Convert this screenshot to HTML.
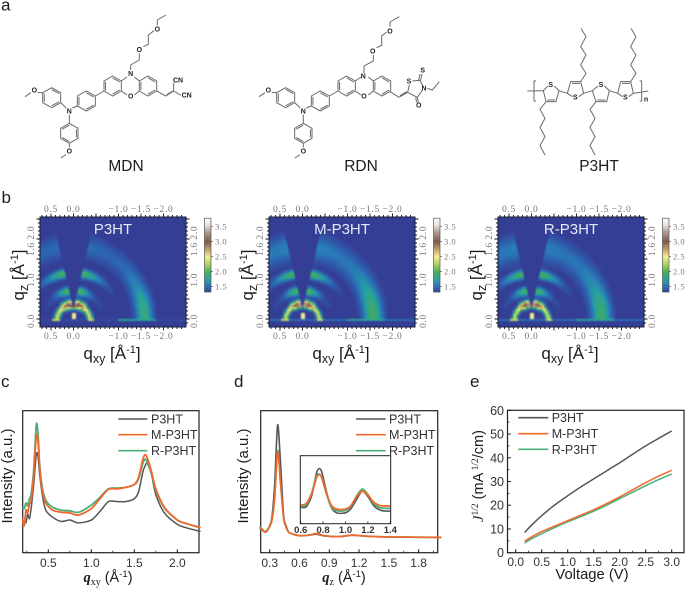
<!DOCTYPE html>
<html lang="en">
<head>
<meta charset="utf-8">
<title>P3HT blends: structures, GIWAXS, line cuts, SCLC</title>
<style>
html,body{margin:0;padding:0;background:#fff;width:685px;height:589px;overflow:hidden}
svg{display:block}
text{font-family:"Liberation Sans",sans-serif;fill:#1c1c1c}
.serif{font-family:"Liberation Serif",serif}
</style>
</head>
<body>
<svg id="fig" xmlns="http://www.w3.org/2000/svg" width="685" height="589" viewBox="0 0 685 589">
<defs>
  <filter id="mapBlur" x="-5%" y="-5%" width="110%" height="110%" color-interpolation-filters="sRGB"><feGaussianBlur stdDeviation="0.9"/></filter>
</defs>
<rect width="685" height="589" fill="#fff"/>

<text x="1" y="10.5" font-size="17">a</text>
<text x="1.5" y="203" font-size="17">b</text>
<text x="1" y="387" font-size="17">c</text>
<text x="234" y="387" font-size="17">d</text>
<text x="470" y="387" font-size="17">e</text>

<g id="mols" transform="scale(0.33333)">
  <g id="mdn"></g>
  <g id="rdn"></g>
  <g id="p3ht" transform="translate(-320 0)"></g>
  <g font-size="21" text-anchor="middle" font-weight="bold" fill="#333">
    <text x="103" y="278">O</text>
    <text x="208" y="340">N</text>
    <text x="208" y="460">O</text>
    <text x="392" y="228">N</text>
    <text x="392" y="295">O</text>
    <text x="418" y="156">O</text>
    <text x="472" y="94">O</text>
    <text x="534" y="247">CN</text>
    <text x="560" y="293">CN</text>
    <text x="805" y="278">O</text>
    <text x="910" y="340">N</text>
    <text x="910" y="460">O</text>
    <text x="1090" y="236">N</text>
    <text x="1092" y="296">O</text>
    <text x="1118" y="160">O</text>
    <text x="1170" y="100">O</text>
    <text x="1227" y="250">S</text>
    <text x="1268" y="217">S</text>
    <text x="1272" y="271">N</text>
    <text x="1256" y="323">O</text>
    <text x="1652" y="261">S</text>
    <text x="1726" y="298">S</text>
    <text x="1803" y="261">S</text>
    <text x="1876" y="298">S</text>
    <text x="1938" y="305">n</text>
  </g>
</g>
<text x="126" y="171" font-size="15.5" text-anchor="middle" fill="#333">MDN</text>
<text x="361" y="171" font-size="15.5" text-anchor="middle" fill="#333">RDN</text>
<text x="599" y="171" font-size="15.5" text-anchor="middle" fill="#333">P3HT</text>

<g id="heatmaps"></g>

<text transform="translate(24 275) rotate(-90)" font-size="17" text-anchor="middle">q<tspan dy="4" font-size="12.5">z</tspan><tspan dy="-4"> [Å</tspan><tspan dy="-6" font-size="11">-1</tspan><tspan dy="6">]</tspan></text>
<text transform="translate(253 275) rotate(-90)" font-size="17" text-anchor="middle">q<tspan dy="4" font-size="12.5">z</tspan><tspan dy="-4"> [Å</tspan><tspan dy="-6" font-size="11">-1</tspan><tspan dy="6">]</tspan></text>
<text transform="translate(482 275) rotate(-90)" font-size="17" text-anchor="middle">q<tspan dy="4" font-size="12.5">z</tspan><tspan dy="-4"> [Å</tspan><tspan dy="-6" font-size="11">-1</tspan><tspan dy="6">]</tspan></text>
<text x="112" y="359" font-size="17" text-anchor="middle">q<tspan dy="4" font-size="12.5">xy</tspan><tspan dy="-4"> [Å</tspan><tspan dy="-6" font-size="11">-1</tspan><tspan dy="6">]</tspan></text>
<text x="341" y="359" font-size="17" text-anchor="middle">q<tspan dy="4" font-size="12.5">xy</tspan><tspan dy="-4"> [Å</tspan><tspan dy="-6" font-size="11">-1</tspan><tspan dy="6">]</tspan></text>
<text x="570" y="359" font-size="17" text-anchor="middle">q<tspan dy="4" font-size="12.5">xy</tspan><tspan dy="-4"> [Å</tspan><tspan dy="-6" font-size="11">-1</tspan><tspan dy="6">]</tspan></text>

<g id="charts"></g>

<text transform="translate(12 476) rotate(-90)" font-size="15" text-anchor="middle" fill="#333">Intensity (a.u.)</text>
<text transform="translate(248 476) rotate(-90)" font-size="15" text-anchor="middle" fill="#333">Intensity (a.u.)</text>
<text transform="translate(483 476) rotate(-90)" font-size="14.5" text-anchor="middle" fill="#333"><tspan class="serif" font-style="italic">J</tspan><tspan dy="-5" font-size="9.5" class="serif">1/2</tspan><tspan dy="5"> (mA</tspan><tspan dy="-5" font-size="9.5" class="serif"> 1/2</tspan><tspan dy="5">/cm)</tspan></text>
<text x="108" y="582" font-size="14.5" text-anchor="middle" fill="#333"><tspan class="serif" font-style="italic" font-weight="bold">q</tspan><tspan dy="3" font-size="10" class="serif">xy</tspan><tspan dy="-3"> (Å</tspan><tspan dy="-5" font-size="9.5">-1</tspan><tspan dy="5">)</tspan></text>
<text x="344" y="582" font-size="14.5" text-anchor="middle" fill="#333"><tspan class="serif" font-style="italic" font-weight="bold">q</tspan><tspan dy="3" font-size="10" class="serif">z</tspan><tspan dy="-3"> (Å</tspan><tspan dy="-5" font-size="9.5">-1</tspan><tspan dy="5">)</tspan></text>
<text x="592" y="579" font-size="14.8" text-anchor="middle" fill="#333">Voltage (V)</text>
</svg>

<script>
// ---------- GIWAXS data (intensity model) ----------
const mapTitles = ['P3HT', 'M-P3HT', 'R-P3HT'];
const ringAngles = [0, 15, 30, 45, 60, 75, 90];
const outerRadius = [1.58, 1.57, 1.56];
const outerWidth = [0.12, 0.14, 0.14];
const outerAmp = [
  [1.9, 1.82, 1.6, 1.5, 1.47, 1.5, 1.53],
  [1.98, 1.88, 1.68, 1.56, 1.54, 1.58, 1.62],
  [1.95, 1.85, 1.66, 1.55, 1.53, 1.57, 1.6]
];
const domeRadius = [0.37, 0.38, 0.38];
const domeWidth = [0.045, 0.04, 0.04];
const domeAmp = [2.4, 2.4, 2.4, 2.55, 2.95, 3.2, 3.35];
const arc2Radius = [0.67, 0.67, 0.67];
const arc2Amp = [1.32, 1.33, 1.36, 1.4, 1.58, 1.98, 2.0];
const arc3Radius = [1.07, 1.05, 1.05];
const arc3Amp = [1.32, 1.33, 1.34, 1.4, 1.62, 1.98, 2.0];
const arcWidth = 0.065;
const horizonAmp = [1.36, 1.5, 1.5];
const wedgeApex = 0.27;
const wedgeSlope = 0.235;
const mapXTicks = [0.5, 0, -1, -1.5, -2];
const mapXLabels = ['0.5', '0.0', '−1.0', '−1.5', '−2.0'];
const mapYTickValues = [0, 1, 1.6, 2];
const mapYLabels = ['0.0', '1.0', '1.6', '2.0'];
const cbarTicks = [1.5, 2, 2.5, 3, 3.5];
const cbarLabels = ['1.5', '2.0', '2.5', '3.0', '3.5'];
const cmapValues = [1.3, 1.42, 1.55, 1.72, 2.0, 2.25, 2.5, 2.75, 3.0, 3.3, 3.55, 3.8];
const cmapColors = ['#343e94', '#2f55a8', '#2a78b8', '#25a0a0', '#48ae52', '#b0d260', '#f4ec8e', '#c2a06c', '#7c5646', '#a8948c', '#e6e0dc', '#ffffff'];

// ---------- Line-cut data ----------
const seriesNames = ['P3HT', 'M-P3HT', 'R-P3HT'];
const cQ = [.2,.22,.24,.26,.28,.3,.33,.36,.38,.4,.43,.47,.55,.65,.75,.85,1,1.1,1.2,1.3,1.4,1.5,1.55,1.6,1.625,1.65,1.7,1.75,1.85,2,2.1,2.27];
const cP3HT = [18,23,21,27,24,31,48,69,68,55,41,30,25,22,23,21,23,29,36,36,36,38,43,57,61,63,55,41,28,20,17.6,15];
const cM = [24,19,30,28,34,37,55,82,79,60,44,35,30,28.5,28,26.5,31,38,44.6,45,46,48,53,66,69,67,57,45,32,23,20.6,17.6];
const cR = [32,31,35,33,38,41,58,90,84,62,46,37,32,30,29.5,28.4,33.5,39,45,45.5,46,48,52,63,66,64,56,44,31.5,23,20.6,17.6];
const cXTicks = [.5, 1, 1.5, 2];
const cXLabels = ['0.5', '1.0', '1.5', '2.0'];

const dQ = [.2,.22,.25,.28,.32,.35,.38,.41,.44,.47,.5,.6,.7,.77,.85,1,1.13,1.3,1.6,2.03];
const dP3HT = [17.6,16.5,14.5,16,24,48,90,62,26.5,18,14,12,12.4,13,11.8,11.3,12.2,11.5,11,10.8];
const dM = [17.6,16.5,14.5,16,22,38,71,48,24,17,14,12,12.4,13.5,12,11.3,12.4,11.5,11,10.8];
const dR = [18.5,17,15,16.5,23,39,72,49,24.5,17,14,12,12.4,13.5,12,11.3,12.4,11.5,11,10.8];
const dXTicks = [.3, .6, .9, 1.2, 1.5, 1.8];
const dXLabels = ['0.3', '0.6', '0.9', '1.2', '1.5', '1.8'];

const inQ = [.6,.65,.7,.74,.765,.79,.83,.87,.92,1,1.05,1.1,1.15,1.2,1.25,1.3,1.35,1.4];
const inP3HT = [24,25,42,74,81,75,47,25,16,16,22.5,36,48,40,27,20.6,18.6,18.6];
const inM = [27,30,45,67,72,67,45,28,21.5,21.5,27,40,48,42,32,27,26,26];
const inR = [25,28,46,70,73,67,44,26,19,19.5,26,41,51,43,30,24,22.5,22.5];
const inXTicks = [.6, .8, 1, 1.2, 1.4];
const inXLabels = ['0.6', '0.8', '1.0', '1.2', '1.4'];

const eV = [.17,.3,.5,.75,1,1.25,1.5,1.75,2,2.25,2.5,2.75,3];
const eP3HT = [8.5,11.5,15.6,20.1,24,27.7,31.1,34.5,37.9,41.5,45,48.2,51.3];
const eM = [4.8,6.6,8.9,11.2,13.5,15.8,18.1,20.7,23.5,26.5,29.5,32.3,34.7];
const eR = [4.1,5.8,8,10.6,13,15.2,17.5,20,22.8,25.5,28.2,30.8,33.2];
const eXTicks = [0, .5, 1, 1.5, 2, 2.5, 3];
const eXLabels = ['0.0', '0.5', '1.0', '1.5', '2.0', '2.5', '3.0'];
const eYTicks = [0, 10, 20, 30, 40, 50, 60];
const eYLabels = ['0', '10', '20', '30', '40', '50', '60'];

// ---------- helpers ----------
const NS = 'http://www.w3.org/2000/svg';
function mk(tag, attrs, parent, content) {
  const el = document.createElementNS(NS, tag);
  for (const k in attrs) el.setAttribute(k, attrs[k]);
  if (content !== undefined) el.textContent = content;
  parent.appendChild(el);
  return el;
}
function interp(xs, ys, x) {
  if (x <= xs[0]) return ys[0];
  for (let i = 1; i < xs.length; i++) {
    if (x <= xs[i]) {
      const t = (x - xs[i - 1]) / (xs[i] - xs[i - 1]);
      return ys[i - 1] + t * (ys[i] - ys[i - 1]);
    }
  }
  return ys[ys.length - 1];
}
function hexToRgb(h) {
  return [parseInt(h.slice(1, 3), 16), parseInt(h.slice(3, 5), 16), parseInt(h.slice(5, 7), 16)];
}
const cmapRgb = cmapColors.map(hexToRgb);
function colorOf(v) {
  const c = [0, 1, 2].map(i => Math.round(interp(cmapValues, cmapRgb.map(r => r[i]), v)));
  return 'rgb(' + c.join(',') + ')';
}
function smoothPath(pts) {
  let d = 'M' + pts[0][0].toFixed(2) + ' ' + pts[0][1].toFixed(2);
  for (let i = 0; i < pts.length - 1; i++) {
    const p0 = pts[Math.max(i - 1, 0)], p1 = pts[i], p2 = pts[i + 1], p3 = pts[Math.min(i + 2, pts.length - 1)];
    const k = 0.14;
    d += 'C' + (p1[0] + (p2[0] - p0[0]) * k).toFixed(2) + ' ' + (p1[1] + (p2[1] - p0[1]) * k).toFixed(2) + ' ' +
      (p2[0] - (p3[0] - p1[0]) * k).toFixed(2) + ' ' + (p2[1] - (p3[1] - p1[1]) * k).toFixed(2) + ' ' +
      p2[0].toFixed(2) + ' ' + p2[1].toFixed(2);
  }
  return d;
}

// ---------- molecules (drawn in 3x coordinates) ----------
function ringPath(cx, cy, rx, ry, inner) {
  const v = [[0,-ry],[rx,-ry/2],[rx,ry/2],[0,ry],[-rx,ry/2],[-rx,-ry/2]].map(p => [cx + p[0], cy + p[1]]);
  let d = 'M' + v.map(p => p.join(' ')).join('L') + 'Z';
  inner.forEach(i => {
    const a = v[i], b = v[(i + 1) % 6];
    const s = [a[0] + (cx - a[0]) * .18, a[1] + (cy - a[1]) * .18], e = [b[0] + (cx - b[0]) * .18, b[1] + (cy - b[1]) * .18];
    d += 'M' + s.join(' ') + 'L' + e.join(' ');
  });
  return d;
}
function chain(pts) { return 'M' + pts.map(p => p.join(' ')).join('L'); }
function bondsPath(parent, d) {
  const el = mk('path', { d: d, fill: 'none', stroke: '#6a6a6a', 'stroke-width': 3 }, parent);
  
  
}
function triaryl(dx) {
  const sh = p => p.map(q => [q[0] + dx, q[1]]);
  return ringPath(155 + dx, 293, 27, 30, [0, 2, 4]) + ringPath(259 + dx, 303, 27, 30, [0, 2, 4]) +
    ringPath(208 + dx, 400, 26, 30, [1, 3, 5]) +
    chain(sh([[75,290],[93,278]])) + chain(sh([[113,278],[128,278]])) +
    chain(sh([[182,308],[199,324]])) + chain(sh([[232,318],[217,324]])) +
    chain(sh([[208,344],[208,370]])) + chain(sh([[208,430],[208,442]])) + chain(sh([[198,464],[182,474]])) +
    chain(sh([[286,288],[312,273]]));
}
function phenox(dx) {
  const sh = p => p.map(q => [q[0] + dx, q[1]]);
  return ringPath(338 + dx, 258, 26, 30, [0, 2, 4]) + ringPath(444 + dx, 258, 26, 30, [0, 2, 4]) +
    chain(sh([[364,243],[381,231]])) + chain(sh([[403,231],[418,243]])) +
    chain(sh([[364,273],[381,285]])) + chain(sh([[403,285],[418,273]]));
}
bondsPath(document.getElementById('mdn'),
  triaryl(0) + phenox(0) +
  chain([[392,210],[392,195],[418,180],[418,160]]) + chain([[430,140],[445,133],[445,105],[462,92]]) + chain([[472,76],[472,60],[498,45]]) +
  chain([[470,273],[497,288],[521,273]]) + chain([[500,284],[518,273]]) + chain([[521,273],[521,248]]) + chain([[521,273],[543,286]]));
bondsPath(document.getElementById('rdn'),
  triaryl(702) + phenox(702) +
  chain([[1092,220],[1092,198],[1120,183],[1120,165]]) + chain([[1130,143],[1145,136],[1145,108],[1160,96]]) + chain([[1170,80],[1170,66],[1198,50]]) +
  chain([[1170,275],[1197,292],[1223,277]]) + chain([[1200,287],[1220,275]]) +
  chain([[1223,277],[1228,254]]) + chain([[1237,243],[1260,241],[1268,256]]) + chain([[1268,270],[1252,292],[1223,277]]) +
  chain([[1262,240],[1266,222]]) + chain([[1256,240],[1260,222]]) +
  chain([[1252,292],[1255,307]]) + chain([[1247,293],[1250,307]]) +
  chain([[1282,265],[1297,270],[1318,245]]));
bondsPath(document.getElementById('p3ht'),
  chain([[1902,273],[1950,272]]) + chain([[1928,243],[1922,243],[1922,303],[1928,303]]) +
  chain([[1950,272],[1958,305],[1988,305],[1997,272]]) + chain([[1950,272],[1964,258]]) + chain([[1983,258],[1997,272]]) +
  chain([[1962,300],[1985,300]]) +
  chain([[1997,272],[2022,280]]) +
  chain([[2022,280],[2032,245],[2062,245],[2071,280]]) + chain([[2022,280],[2038,290]]) + chain([[2056,290],[2071,280]]) + chain([[2036,250],[2060,250]]) +
  chain([[2071,280],[2097,272]]) +
  chain([[2097,272],[2108,305],[2140,305],[2148,272]]) + chain([[2097,272],[2114,258]]) + chain([[2133,258],[2148,272]]) + chain([[2112,300],[2136,300]]) +
  chain([[2148,272],[2173,280]]) +
  chain([[2173,280],[2182,245],[2212,245],[2220,280]]) + chain([[2173,280],[2188,290]]) + chain([[2206,290],[2220,280]]) + chain([[2186,250],[2210,250]]) +
  chain([[2220,280],[2265,273]]) + chain([[2239,243],[2245,243],[2245,303],[2239,303]]) +
  chain([[1958,305],[1940,328],[1955,355],[1940,382],[1955,410],[1940,437],[1955,465]]) +
  chain([[2062,245],[2078,220],[2062,195],[2078,165],[2062,140],[2078,110],[2063,85]]) +
  chain([[2108,305],[2090,328],[2105,355],[2090,382],[2105,410],[2090,437],[2105,465]]) +
  chain([[2212,245],[2228,220],[2212,195],[2228,165],[2212,140],[2228,110],[2213,85]]));

// ---------- GIWAXS panels ----------
const hmRoot = document.getElementById('heatmaps');
const pxPerQ = 45;
const mapOrigins = [40, 269, 498];
const mapW = 146, mapTop = 217, mapH = 110, mapBaseY = 321, mapCenter = 33.5;
function gauss(r, r0, s) { return Math.exp(-0.5 * Math.pow((r - r0) / s, 2)); }
function mapValue(p, qx, qz) {
  const base = cmapValues[0];
  if (qz < -0.01) return base;
  if (qz < 0.025) {
    let h = horizonAmp[p];
    if (qx > 1.0 && qx < 1.85) h = 1.75;
    return Math.max(h, Math.abs(qx) > 0.3 && Math.abs(qx) < 0.46 ? 2.3 : base);
  }
  const r = Math.sqrt(qx * qx + qz * qz);
  const rOuter = Math.sqrt(qx * qx + qz * qz * 0.9);
  const ang = Math.atan2(qz, Math.abs(qx)) * 180 / Math.PI;
  let v = base;
  v += (interp(ringAngles, outerAmp[p], ang) - base) * gauss(rOuter, outerRadius[p], outerWidth[p] * (1 + ang / 200));
  v += (interp(ringAngles, domeAmp, ang) - base) * gauss(r, domeRadius[p], domeWidth[p] * (ang > 50 ? 1.35 : 1));
  v += (interp(ringAngles, arc2Amp, ang) - base) * gauss(r, arc2Radius[p], arcWidth);
  v += (interp(ringAngles, arc3Amp, ang) - base) * gauss(r, arc3Radius[p], arcWidth);
  if (Math.abs(qx) < 0.035 && qz < 0.18) v = 2.5;
  return v;
}
mapTitles.forEach((title, p) => {
  const x0 = mapOrigins[p];
  const g = mk('g', {}, hmRoot);
  
  
  const clipId = 'mapClip' + p;
  const clip = mk('clipPath', { id: clipId }, g);
  
  
  const clipRect = mk('rect', { x: x0, y: mapTop, width: mapW, height: mapH }, clip);
  
  
  const clipped = mk('g', { 'clip-path': 'url(#' + clipId + ')' }, g);
  
  
  const blurred = mk('g', { filter: 'url(#mapBlur)' }, clipped);
  
  
  const bg = mk('rect', { x: x0 - 6, y: mapTop - 6, width: mapW + 12, height: mapH + 12, fill: cmapColors[0] }, blurred);
  
  
  const cx = x0 + mapCenter;
  const xScale = q => cx - q * pxPerQ;
  const yScale = q => mapBaseY - q * pxPerQ * 0.915;
  for (let py = mapTop; py < mapTop + mapH; py += 2) {
    for (let px = x0; px < x0 + mapW; px += 2) {
      const v = mapValue(p, (px + 1 - cx) / pxPerQ, (mapBaseY - (py + 1)) / pxPerQ);
      if (v < 1.345) continue;
      const cell = mk('rect', { x: px, y: py, width: 2, height: 2, fill: colorOf(v), 'shape-rendering': 'crispEdges' }, blurred);
      
      
    }
  }
  // missing wedge, same colour as the map floor
  const apexY = mapBaseY - wedgeApex * pxPerQ;
  const wedgeHalf = (apexY - mapTop + 6) * wedgeSlope;
  const wedge = mk('polygon', { points: cx + ',' + apexY + ' ' + (cx - wedgeHalf) + ',' + (mapTop - 6) + ' ' + (cx + wedgeHalf) + ',' + (mapTop - 6), fill: cmapColors[0] }, blurred);
  
  

  const frame = mk('rect', { x: x0, y: mapTop, width: mapW, height: mapH, fill: 'none', stroke: '#1b1f3c', 'stroke-width': 1 }, g);
  
  
  let tickD = '';
  for (let i = -8; i <= 24; i++) {
    const tx = xScale(i * -0.1);
    if (tx < x0 || tx > x0 + mapW) continue;
    const len = i % 5 === 0 ? 3.5 : 2;
    tickD += 'M' + tx + ' ' + mapTop + 'v' + (-len) + 'M' + tx + ' ' + (mapTop + mapH) + 'v' + len;
  }
  for (let py = mapTop + 2; py < mapTop + mapH; py += 4) {
    const len = (py - mapTop) % 20 === 2 ? 3.5 : 2;
    tickD += 'M' + x0 + ' ' + py + 'h' + (-len) + 'M' + (x0 + mapW) + ' ' + py + 'h' + len;
  }
  const ticks = mk('path', { d: tickD, stroke: '#111', 'stroke-width': 0.9, fill: 'none' }, g);
  
  
  mapXTicks.forEach((q, i) => {
    const topL = mk('text', { x: xScale(q), y: 212, 'font-size': 9.5, 'text-anchor': 'middle', class: 'serif', 'letter-spacing': '0.7', style: 'fill:#777' }, g, mapXLabels[i]);
    
    
    const botL = mk('text', { x: xScale(q), y: 339, 'font-size': 9.5, 'text-anchor': 'middle', class: 'serif', 'letter-spacing': '0.7', style: 'fill:#777' }, g, mapXLabels[i]);
    
    
  });
  mapYTickValues.forEach((q, i) => {
    const ty = yScale(q) + (q > 1.5 ? -6 : 0);
    const l = mk('text', { transform: 'translate(' + (x0 - 6) + ' ' + ty + ') rotate(-90)', 'font-size': 9.5, 'text-anchor': 'middle', class: 'serif', 'letter-spacing': '0.7', style: 'fill:#777' }, g, mapYLabels[i]);
    
    
    const r = mk('text', { transform: 'translate(' + (x0 + mapW + 11) + ' ' + ty + ') rotate(-90)', 'font-size': 9.5, 'text-anchor': 'middle', class: 'serif', 'letter-spacing': '0.7', style: 'fill:#777' }, g, mapYLabels[i]);
    
    
  });
  const t = mk('text', { x: x0 + 73, y: 234, 'font-size': 15, 'text-anchor': 'middle', style: 'fill:#e6eaf6' }, g, title);
  
  
  // colorbar
  const cbX = x0 + 164.5, cbW = 6.5, cbBottom = 292, cbPerUnit = 30;
  const cbY = v => cbBottom - (v - 1.32) * cbPerUnit;
  const cbG = mk('g', {}, g);
  
  
  for (let v = 1.32; v < 3.78; v += 0.04) {
    const c = mk('rect', { x: cbX, y: cbY(v + 0.04), width: cbW, height: 1.4, fill: colorOf(v + 0.02) }, cbG);
    
    
  }
  const cf = mk('rect', { x: cbX, y: cbY(3.78), width: cbW, height: (3.78 - 1.32) * cbPerUnit, fill: 'none', stroke: '#555', 'stroke-width': 0.7 }, cbG);
  
  
  cbarTicks.forEach((v, i) => {
    const l = mk('text', { x: cbX + 10.5, y: cbY(v) + 3, 'font-size': 8.5, class: 'serif', 'letter-spacing': '0.5', style: 'fill:#777' }, cbG, cbarLabels[i]);
    
    
    const tk = mk('line', { x1: cbX + cbW, x2: cbX + cbW + 2, y1: cbY(v), y2: cbY(v), stroke: '#555', 'stroke-width': 0.7 }, cbG);
    
    
  });
});

// ---------- line charts ----------
const chartsRoot = document.getElementById('charts');
const seriesColors = { 'P3HT': '#565656', 'M-P3HT': '#f1682c', 'R-P3HT': '#4caf78' };
function drawFrame(g, box, name, sw) {
  const f = mk('rect', { x: box.l, y: box.t, width: box.r - box.l, height: box.b - box.t, fill: 'none', stroke: '#222', 'stroke-width': sw || 1.2 }, g);
  
  
}
function drawXTicks(g, box, xf, ticks, labels, step, name, size, labelY) {
  ticks.forEach((q, i) => {
    const t = mk('line', { x1: xf(q), x2: xf(q), y1: box.b, y2: box.b - 3.5, stroke: '#222', 'stroke-width': 1 }, g);
    
    
    const l = mk('text', { x: xf(q), y: labelY, 'font-size': size, 'text-anchor': 'middle', style: 'fill:#333' }, g, labels[i]);
    
    
  });
  for (let q = ticks[0] - step; xf(q) < box.r; q += step) {
    if (xf(q) < box.l) continue;
    const t = mk('line', { x1: xf(q), x2: xf(q), y1: box.b, y2: box.b - 2, stroke: '#222', 'stroke-width': 0.8 }, g);
    
    
  }
}
function drawSeries(g, xs, ys, xf, yf, sname, sw, name) {
  const p = mk('path', { d: smoothPath(xs.map((x, i) => [xf(x), yf(ys[i])])), fill: 'none', stroke: seriesColors[sname], 'stroke-width': sw, 'stroke-linejoin': 'round' }, g);
  
  
}
function drawLegend(g, x1, x2, tx, ys, name) {
  seriesNames.forEach((s, i) => {
    const l = mk('line', { x1: x1, x2: x2, y1: ys[i], y2: ys[i], stroke: seriesColors[s], 'stroke-width': 1.6 }, g);
    
    
    const t = mk('text', { x: tx, y: ys[i] + 4.5, 'font-size': 12.5, style: 'fill:#333' }, g, s);
    
    
  });
}
// chart c
{
  const g = mk('g', {}, chartsRoot);
  
  
  const box = { l: 22.7, r: 199, t: 410.7, b: 552.7 };
  const xf = q => 48.3 + (q - .5) * 86;
  const yf = v => box.b - v * 1.42;
  drawFrame(g, box, 'chart-c');
  drawXTicks(g, box, xf, cXTicks, cXLabels, .25, 'chart-c', 12, 567);
  drawSeries(g, cQ, cP3HT, xf, yf, 'P3HT', 1.5, 'chart-c');
  drawSeries(g, cQ, cR, xf, yf, 'R-P3HT', 1.8, 'chart-c');
  drawSeries(g, cQ, cM, xf, yf, 'M-P3HT', 1.8, 'chart-c');
  drawLegend(g, 118.3, 147.3, 151, [419, 434.7, 450.7], 'chart-c');
}
// chart d
{
  const g = mk('g', {}, chartsRoot);
  
  
  const box = { l: 260.7, r: 437.7, t: 410.7, b: 552.7 };
  const xf = q => 269.7 + (q - .3) * 99.3;
  const yf = v => box.b - v * 1.42;
  drawFrame(g, box, 'chart-d');
  drawXTicks(g, box, xf, dXTicks, dXLabels, .15, 'chart-d', 12, 567);
  drawSeries(g, dQ, dP3HT, xf, yf, 'P3HT', 1.6, 'chart-d');
  drawSeries(g, dQ, dR, xf, yf, 'R-P3HT', 1.7, 'chart-d');
  drawSeries(g, dQ, dM, xf, yf, 'M-P3HT', 1.7, 'chart-d');
  drawLegend(g, 356, 385.7, 389, [419, 434.7, 450.7], 'chart-d');
  // inset
  const ibox = { l: 300.3, r: 390.7, t: 455.7, b: 523.7 };
  const ix = q => 300.7 + (q - .6) * 112;
  const iy = v => ibox.b - v * 0.68;
  const bgr = mk('rect', { x: ibox.l, y: ibox.t, width: ibox.r - ibox.l, height: ibox.b - ibox.t, fill: '#fff' }, g);
  
  
  drawSeries(g, inQ, inP3HT, ix, iy, 'P3HT', 1.6, 'inset');
  drawSeries(g, inQ, inR, ix, iy, 'R-P3HT', 1.8, 'inset');
  drawSeries(g, inQ, inM, ix, iy, 'M-P3HT', 1.8, 'inset');
  drawFrame(g, ibox, 'inset', 1);
  inXTicks.forEach((q, i) => {
    const t = mk('line', { x1: ix(q), x2: ix(q), y1: ibox.b, y2: ibox.b - 2.5, stroke: '#222', 'stroke-width': .8 }, g);
    
    
    const l = mk('text', { x: ix(q), y: 533, 'font-size': 9.5, 'font-weight': 'bold', 'text-anchor': 'middle', style: 'fill:#333' }, g, inXLabels[i]);
    
    
  });
}
// chart e
{
  const g = mk('g', {}, chartsRoot);
  
  
  const box = { l: 507.5, r: 684, t: 410.3, b: 552.7 };
  const xf = v => 515.7 + v * 52;
  const yf = v => box.b - v * 2.373;
  drawFrame(g, box, 'chart-e');
  drawXTicks(g, box, xf, eXTicks, eXLabels, .25, 'chart-e', 12, 566);
  eYTicks.forEach((v, i) => {
    const t = mk('line', { x1: box.l, x2: box.l + 3.5, y1: yf(v), y2: yf(v), stroke: '#222', 'stroke-width': 1 }, g);
    
    
    const l = mk('text', { x: 504, y: yf(v) + 4.5, 'font-size': 12.5, 'text-anchor': 'end', style: 'fill:#333' }, g, eYLabels[i]);
    
    
    if (i < eYTicks.length - 1) {
      const m = mk('line', { x1: box.l, x2: box.l + 2, y1: yf(v + 5), y2: yf(v + 5), stroke: '#222', 'stroke-width': .8 }, g);
      
      
    }
  });
  drawSeries(g, eV, eP3HT, xf, yf, 'P3HT', 1.5, 'chart-e');
  drawSeries(g, eV, eR, xf, yf, 'R-P3HT', 1.5, 'chart-e');
  drawSeries(g, eV, eM, xf, yf, 'M-P3HT', 1.5, 'chart-e');
  drawLegend(g, 518.3, 548.3, 551.7, [417.7, 433.7, 449.3], 'chart-e');
}
</script>
</body>
</html>
